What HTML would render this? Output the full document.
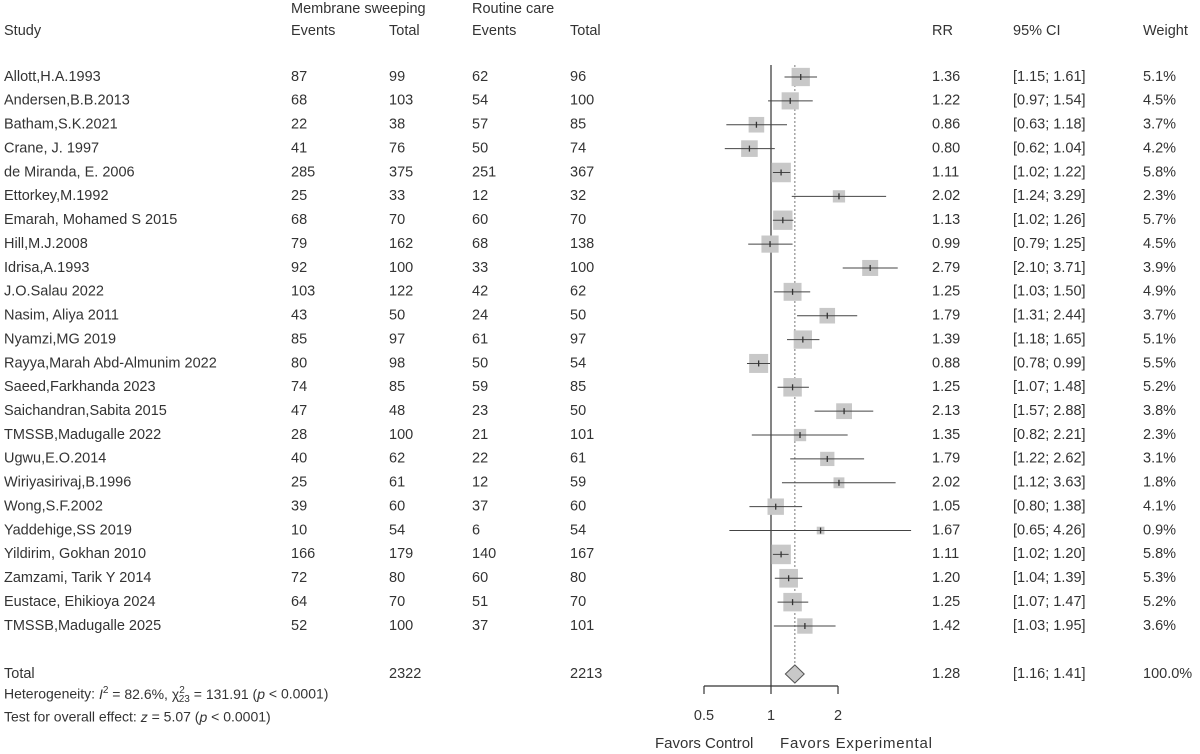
<!DOCTYPE html>
<html><head><meta charset="utf-8"><style>
html,body{margin:0;padding:0;background:#fff;}
svg{display:block;font-family:"Liberation Sans",Arial,sans-serif;}
</style></head><body>
<svg id="c" width="1200" height="754" viewBox="0 0 1200 754"></svg>
<script>
const studies=["Allott,H.A.1993","Andersen,B.B.2013","Batham,S.K.2021","Crane, J. 1997","de Miranda, E. 2006","Ettorkey,M.1992","Emarah, Mohamed S 2015","Hill,M.J.2008","Idrisa,A.1993","J.O.Salau 2022","Nasim, Aliya 2011","Nyamzi,MG 2019","Rayya,Marah Abd-Almunim 2022","Saeed,Farkhanda 2023","Saichandran,Sabita 2015","TMSSB,Madugalle 2022","Ugwu,E.O.2014","Wiriyasirivaj,B.1996","Wong,S.F.2002","Yaddehige,SS 2019","Yildirim, Gokhan 2010","Zamzami, Tarik Y 2014","Eustace, Ehikioya 2024","TMSSB,Madugalle 2025"];
const expEvents=[87,68,22,41,285,25,68,79,92,103,43,85,80,74,47,28,40,25,39,10,166,72,64,52];
const expTotal=[99,103,38,76,375,33,70,162,100,122,50,97,98,85,48,100,62,61,60,54,179,80,70,100];
const ctlEvents=[62,54,57,50,251,12,60,68,33,42,24,61,50,59,23,21,22,12,37,6,140,60,51,37];
const ctlTotal=[96,100,85,74,367,32,70,138,100,62,50,97,54,85,50,101,61,59,60,54,167,80,70,101];
const rr=[1.36,1.22,0.86,0.80,1.11,2.02,1.13,0.99,2.79,1.25,1.79,1.39,0.88,1.25,2.13,1.35,1.79,2.02,1.05,1.67,1.11,1.20,1.25,1.42];
const lower=[1.15,0.97,0.63,0.62,1.02,1.24,1.02,0.79,2.10,1.03,1.31,1.18,0.78,1.07,1.57,0.82,1.22,1.12,0.80,0.65,1.02,1.04,1.07,1.03];
const upper=[1.61,1.54,1.18,1.04,1.22,3.29,1.26,1.25,3.71,1.50,2.44,1.65,0.99,1.48,2.88,2.21,2.62,3.63,1.38,4.26,1.20,1.39,1.47,1.95];
const weight=[5.1,4.5,3.7,4.2,5.8,2.3,5.7,4.5,3.9,4.9,3.7,5.1,5.5,5.2,3.8,2.3,3.1,1.8,4.1,0.9,5.8,5.3,5.2,3.6];
const pooled=[1.28,1.16,1.41];
const totals=[2322,2213];
const ticks=[0.5,1,2];

const svg=document.getElementById('c');
const NS="http://www.w3.org/2000/svg";
const X=v=>771+67*Math.log2(v);
const Y=i=>77+i*23.87;
function el(tag,attrs,name,parent){
  const e=document.createElementNS(NS,tag);
  for(const k in attrs)e.setAttribute(k,attrs[k]);
  
  
  (parent||svg).appendChild(e);return e;
}
function txt(x,y,s,name,size,anchor){
  const t=el('text',{x:x,y:y,'font-size':size||14.5,fill:'#333','text-anchor':anchor||'start','dominant-baseline':'middle'},name);
  t.textContent=s;return t;
}
txt(291,9,"Membrane sweeping","header-membrane-sweeping");
txt(472,9,"Routine care","header-routine-care");
txt(4,31,"Study","header-study");
txt(291,31,"Events","header-exp-events");
txt(389,31,"Total","header-exp-total");
txt(472,31,"Events","header-ctl-events");
txt(570,31,"Total","header-ctl-total");
txt(932,31,"RR","header-rr");
txt(1013,31,"95% CI","header-ci");
txt(1143,31,"Weight","header-weight");
el('line',{x1:X(1),y1:65,x2:X(1),y2:686,stroke:'#333','stroke-width':1.2},'null-line');
el('line',{x1:X(pooled[0]),y1:65,x2:X(pooled[0]),y2:664,stroke:'#777','stroke-width':1,'stroke-dasharray':'2,2'},'pooled-effect-line');
const f2=v=>v.toFixed(2);
studies.forEach((s,i)=>{
  const y=Y(i);
  txt(4,y,s,'study-name');
  txt(291,y,String(expEvents[i]),'exp-events');
  txt(389,y,String(expTotal[i]),'exp-total');
  txt(472,y,String(ctlEvents[i]),'ctl-events');
  txt(570,y,String(ctlTotal[i]),'ctl-total');
  txt(932,y,f2(rr[i]),'rr-value');
  txt(1013,y,"["+f2(lower[i])+"; "+f2(upper[i])+"]",'ci-value');
  txt(1143,y,weight[i].toFixed(1)+"%",'weight-value');
  const sz=8.1*Math.sqrt(weight[i]);
  el('rect',{x:X(rr[i])-sz/2,y:y-sz/2,width:sz,height:sz,fill:'#c8c8c8'},'study-box');
  el('line',{x1:X(lower[i]),y1:y,x2:X(upper[i]),y2:y,stroke:'#444','stroke-width':1},'study-ci-line');
  el('line',{x1:X(rr[i]),y1:y-3,x2:X(rr[i]),y2:y+3,stroke:'#333','stroke-width':1.3},'study-point');
});
const ty=674;
txt(4,ty,"Total","total-label");
txt(389,ty,String(totals[0]),'total-exp');
txt(570,ty,String(totals[1]),'total-ctl');
txt(932,ty,f2(pooled[0]),'total-rr');
txt(1013,ty,"["+f2(pooled[1])+"; "+f2(pooled[2])+"]",'total-ci');
txt(1143,ty,"100.0%",'total-weight');
el('polygon',{points:`${X(pooled[1])},${ty} ${X(pooled[0])},${ty-9} ${X(pooled[2])},${ty} ${X(pooled[0])},${ty+9}`,fill:'#c8c8c8',stroke:'#555','stroke-width':1},'pooled-diamond');
const h=el('text',{x:4,y:695,'font-size':14,fill:'#333','dominant-baseline':'middle'},'heterogeneity-text');
h.innerHTML='Heterogeneity: <tspan font-style="italic">I</tspan><tspan dy="-5" font-size="10">2</tspan><tspan dy="5"> = 82.6%, χ</tspan><tspan dy="-5" font-size="10">2</tspan><tspan dx="-6" dy="9" font-size="10">23</tspan><tspan dy="-4"> = 131.91 (</tspan><tspan font-style="italic">p</tspan> &lt; 0.0001)';
const t2=el('text',{x:4,y:718,'font-size':14,fill:'#333','dominant-baseline':'middle'},'overall-effect-text');
t2.innerHTML='Test for overall effect: <tspan font-style="italic">z</tspan> = 5.07 (<tspan font-style="italic">p</tspan> &lt; 0.0001)';
el('line',{x1:X(ticks[0]),y1:686,x2:X(ticks[ticks.length-1]),y2:686,stroke:'#333','stroke-width':1.2},'x-axis-line');
ticks.forEach(t=>{
  el('line',{x1:X(t),y1:686,x2:X(t),y2:694,stroke:'#333','stroke-width':1.2},'x-tick');
  txt(X(t),716,String(t),'x-tick-label',14.5,'middle');
});
txt(655,744,"Favors Control","favors-control-label",15,'start');
txt(780,744,"Favors Experimental","favors-experimental-label",15,'start').setAttribute('textLength','152');
</script>
</body></html>
